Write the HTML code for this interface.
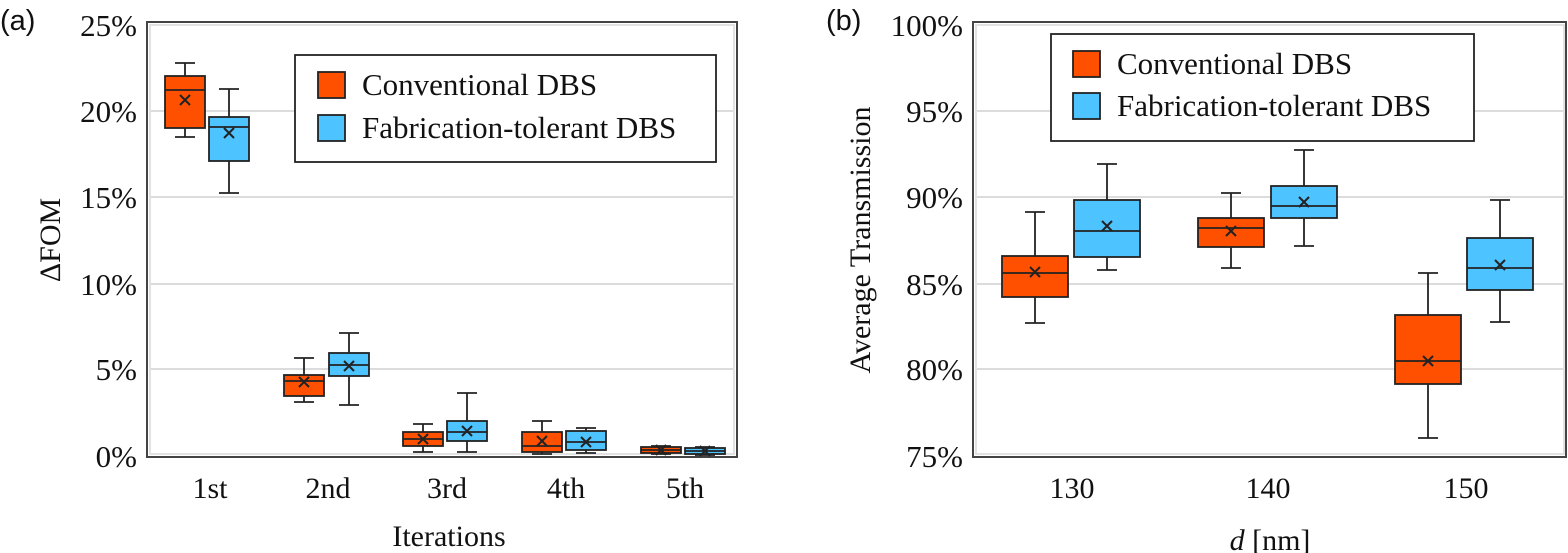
<!DOCTYPE html>
<html><head><meta charset="utf-8"><style>
body{margin:0;background:#fff}
svg{display:block}
</style></head><body>
<svg width="1568" height="553" viewBox="0 0 1568 553" xmlns="http://www.w3.org/2000/svg" font-family="'Liberation Serif', serif">
<g stroke="#dcdcdc" stroke-width="2">
<line x1="149" y1="111" x2="735" y2="111"/><line x1="149" y1="197" x2="735" y2="197"/><line x1="149" y1="284" x2="735" y2="284"/><line x1="149" y1="369" x2="735" y2="369"/>
<line x1="975" y1="111" x2="1565" y2="111"/><line x1="975" y1="197" x2="1565" y2="197"/><line x1="975" y1="284" x2="1565" y2="284"/><line x1="975" y1="369" x2="1565" y2="369"/>
</g>
<rect x="150" y="25" width="584" height="429" fill="none" stroke="#e2e2e2" stroke-width="2"/>
<rect x="976" y="25" width="588" height="429" fill="none" stroke="#e2e2e2" stroke-width="2"/>
<rect x="147" y="22" width="590" height="435" fill="none" stroke="#444" stroke-width="2"/>
<rect x="973" y="22" width="593" height="435" fill="none" stroke="#444" stroke-width="2"/>
<g font-size="31" text-anchor="end" font-family="'Liberation Serif', serif" fill="#111">
<text x="137" y="36">25%</text><text x="137" y="122">20%</text><text x="137" y="208">15%</text><text x="137" y="295">10%</text><text x="137" y="380">5%</text><text x="137" y="467">0%</text>
<text x="963" y="36">100%</text><text x="963" y="122">95%</text><text x="963" y="208">90%</text><text x="963" y="295">85%</text><text x="963" y="380">80%</text><text x="963" y="467">75%</text>
</g>
<g font-size="30" text-anchor="middle" font-family="'Liberation Serif', serif" fill="#111">
<text x="210" y="498">1st</text><text x="328" y="498">2nd</text><text x="447" y="498">3rd</text><text x="566" y="498">4th</text><text x="685" y="498">5th</text>
<text x="1072" y="498">130</text><text x="1268" y="498">140</text><text x="1466" y="498">150</text>
<text x="449" y="546">Iterations</text>
<text x="1270" y="550"><tspan font-style="italic">d</tspan> [nm]</text>
<text transform="translate(60,240) rotate(-90)">ΔFOM</text>
<text transform="translate(870,240) rotate(-90)">Average Transmission</text>
</g>
<text x="0" y="30" font-size="29" font-family="'Liberation Sans', sans-serif" fill="#111">(a)</text>
<text x="826" y="30" font-size="29" font-family="'Liberation Sans', sans-serif" fill="#111">(b)</text>
<g id="boxes" stroke="#222" stroke-width="1.8"></g>
<g stroke="#222" stroke-width="1.8">
<rect x="295" y="55" width="421" height="107" fill="#fff"/>
<rect x="318" y="72" width="27" height="26" fill="#FF5000"/>
<rect x="318" y="115" width="27" height="26" fill="#4DC3FF"/>
<rect x="1051" y="34" width="423" height="107" fill="#fff"/>
<rect x="1073" y="51" width="27" height="26" fill="#FF5000"/>
<rect x="1073" y="93" width="27" height="26" fill="#4DC3FF"/>
</g>
<g font-size="31" font-family="'Liberation Serif', serif" fill="#111">
<text x="362" y="95">Conventional DBS</text>
<text x="362" y="138">Fabrication-tolerant DBS</text>
<text x="1117" y="74">Conventional DBS</text>
<text x="1117" y="116">Fabrication-tolerant DBS</text>
</g>
</svg>
<script>
const O="#FF5000",B="#4DC3FF";
const d=[
[185,40,O,63,76,90,100,128,137],[229,40,B,89,117,127,133,161,193],
[304,40,O,358,375,381,382,396,402],[349,40,B,333,353,365,366,376,405],
[423,40,O,424,432,439,439,446,452],[467,40,B,393,421,432,431,441,452],
[542,40,O,421,432,446,441,452,454],[586,40,B,428,431,442,442,450,453],
[661,40,O,446,447,450,450,453,454],[705,40,B,447,448,451,451,454,455],
[1035,66,O,212,256,273,272,297,323],[1107,66,B,164,200,231,226,257,270],
[1231,66,O,193,218,228,231,247,268],[1304,66,B,150,186,206,202,218,246],
[1428,66,O,273,315,361,361,384,438],[1500,66,B,200,238,268,265,290,322]];
let s="";
for(const [c,w,f,wt,bt,m,mn,bb,wb] of d){
s+=`<line x1="${c}" y1="${wt}" x2="${c}" y2="${wb}"/><line x1="${c-10}" y1="${wt}" x2="${c+10}" y2="${wt}"/><line x1="${c-10}" y1="${wb}" x2="${c+10}" y2="${wb}"/>`;
s+=`<rect x="${c-w/2}" y="${bt}" width="${w}" height="${Math.max(bb-bt,1)}" fill="${f}"/>`;
s+=`<line x1="${c-w/2}" y1="${m}" x2="${c+w/2}" y2="${m}"/>`;
s+=`<path d="M${c-5} ${mn-5}L${c+5} ${mn+5}M${c-5} ${mn+5}L${c+5} ${mn-5}" stroke-width="2"/>`;
}
document.getElementById("boxes").innerHTML=s;
</script>
</body></html>
